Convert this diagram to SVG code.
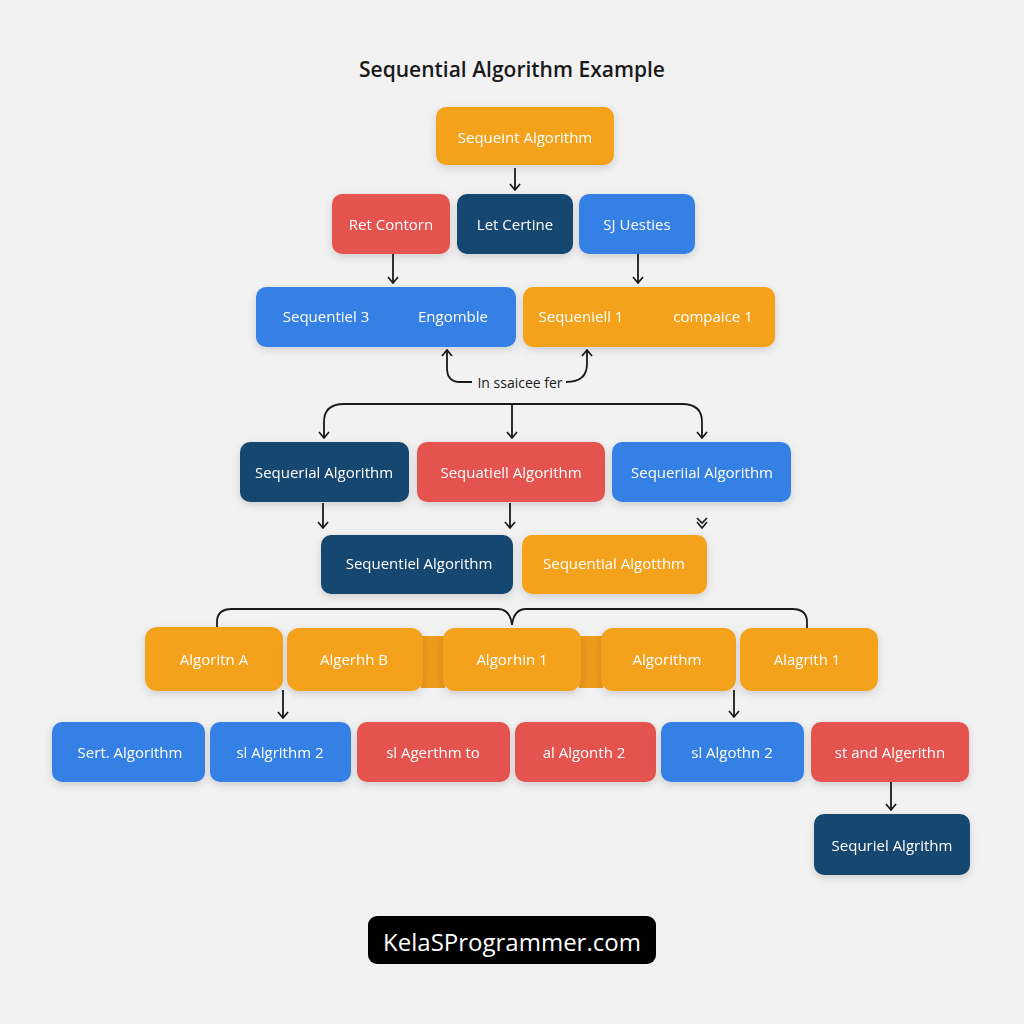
<svg xmlns="http://www.w3.org/2000/svg" width="1024" height="1024" viewBox="0 0 1024 1024">
<defs>
<filter id="sh" x="-20%" y="-30%" width="140%" height="170%">
<feDropShadow dx="0" dy="3" stdDeviation="4" flood-color="#000" flood-opacity="0.15"/>
</filter>
<marker id="ah" viewBox="0 0 12 12" refX="11" refY="6" markerWidth="12" markerHeight="12" orient="auto-start-reverse" markerUnits="userSpaceOnUse">
<path d="M5,1 L11,6 L5,11" fill="none" stroke="#1a1a1a" stroke-width="1.7"/>
</marker>
<marker id="ad" viewBox="0 0 12 12" refX="11" refY="6" markerWidth="12" markerHeight="12" orient="auto" markerUnits="userSpaceOnUse">
<path d="M1,1 L6,6 L1,11 M5,1 L11,6 L5,11" fill="none" stroke="#1a1a1a" stroke-width="1.6"/>
</marker>
</defs>
<style>
.n{filter:url(#sh)}
.o{fill:#F4A21E}
.r{fill:#E5534F}
.v{fill:#17466F}
.b{fill:#3580E4}
.t{font-family:"Open Sans","Liberation Sans",sans-serif;font-size:15px;font-weight:500;fill:#fff;text-anchor:middle;dominant-baseline:central}
.c{fill:none;stroke:#1a1a1a;stroke-width:1.8}
</style>
<rect width="1024" height="1024" fill="#F2F2F3"/>
<text x="512" y="69" font-family="Open Sans, Liberation Sans, sans-serif" font-size="21" font-weight="600" fill="#1a1a1a" text-anchor="middle" dominant-baseline="central">Sequential Algorithm Example</text>

<g id="connectors">
<line class="c" x1="515" y1="168" x2="515" y2="190" marker-end="url(#ah)"/>
<line class="c" x1="393" y1="254" x2="393" y2="283" marker-end="url(#ah)"/>
<line class="c" x1="638" y1="254" x2="638" y2="283" marker-end="url(#ah)"/>
<path class="c" d="M472,382 L460,382 Q447,382 447,368 L447,350" marker-end="url(#ah)"/>
<path class="c" d="M566,382 Q587,382 587,364 L587,350" marker-end="url(#ah)"/>
<path class="c" d="M324,438 L324,422 Q324,404 344,404 L682,404 Q702,404 702,422 L702,438" marker-start="url(#ah)" marker-end="url(#ah)"/>
<line class="c" x1="512" y1="404" x2="512" y2="438" marker-end="url(#ah)"/>
<line class="c" x1="323" y1="503" x2="323" y2="528" marker-end="url(#ah)"/>
<line class="c" x1="510" y1="503" x2="510" y2="528" marker-end="url(#ah)"/>
<line class="c" x1="702" y1="516" x2="702" y2="528" stroke-opacity="0" marker-end="url(#ad)"/>
<path class="c" d="M217,628 L217,622 Q217,609 232,609 L498,609 Q510,609 512,625 Q514,609 526,609 L792,609 Q807,609 807,622 L807,628"/>
<line class="c" x1="283" y1="690" x2="283" y2="718" marker-end="url(#ah)"/>
<line class="c" x1="734" y1="690" x2="734" y2="717" marker-end="url(#ah)"/>
<line class="c" x1="891" y1="782" x2="891" y2="810" marker-end="url(#ah)"/>
</g>

<g id="n1" class="n"><rect class="o" x="436" y="107" width="178" height="58" rx="10"/><text class="t" x="525" y="137" font-size="14">Sequeint Algorithm</text></g>

<g id="n2" class="n"><rect class="r" x="332" y="194" width="118" height="60" rx="10"/><text class="t" x="391" y="224">Ret Contorn</text></g>
<g id="n3" class="n"><rect class="v" x="457" y="194" width="116" height="60" rx="10"/><text class="t" x="515" y="224">Let Certine</text></g>
<g id="n4" class="n"><rect class="b" x="579" y="194" width="116" height="60" rx="10"/><text class="t" x="637" y="224">SJ Uesties</text></g>

<g id="n5" class="n"><rect class="b" x="256" y="287" width="260" height="60" rx="10"/><text class="t" x="326" y="316">Sequentiel 3</text><text class="t" x="453" y="316">Engomble</text></g>
<g id="n6" class="n"><rect class="o" x="523" y="287" width="252" height="60" rx="10"/><text class="t" x="581" y="316" font-size="14">Sequeniell 1</text><text class="t" x="713" y="316" font-size="14">compaice 1</text></g>

<text x="520" y="382" font-family="Open Sans, Liberation Sans, sans-serif" font-size="14" fill="#1a1a1a" text-anchor="middle" dominant-baseline="central">In ssaicee fer</text>

<g id="n7" class="n"><rect class="v" x="240" y="442" width="169" height="60" rx="10"/><text class="t" x="324" y="472">Sequerial Algorithm</text></g>
<g id="n8" class="n"><rect class="r" x="417" y="442" width="188" height="60" rx="10"/><text class="t" x="511" y="472">Sequatiell Algorithm</text></g>
<g id="n9" class="n"><rect class="b" x="612" y="442" width="179" height="60" rx="10"/><text class="t" x="702" y="472">Sequeriial Algorithm</text></g>

<g id="n10" class="n"><rect class="v" x="321" y="535" width="192" height="59" rx="10"/><text class="t" x="419" y="563">Sequentiel Algorithm</text></g>
<g id="n11" class="n"><rect class="o" x="522" y="535" width="185" height="59" rx="10"/><text class="t" x="614" y="563" font-size="14">Sequential Algotthm</text></g>

<g id="links6">
<rect x="421" y="636" width="24" height="52" fill="#EE9A1C"/>
<rect x="579" y="636" width="24" height="52" fill="#EE9A1C"/>
</g>
<g id="n12" class="n"><rect class="o" x="145" y="627" width="138" height="64" rx="12"/><text class="t" x="214" y="659" font-size="14">Algoritn A</text></g>
<g id="n13" class="n"><rect class="o" x="287" y="628" width="136" height="63" rx="12"/><text class="t" x="354" y="659" font-size="14">Algerhh B</text></g>
<g id="n14" class="n"><rect class="o" x="443" y="628" width="138" height="63" rx="12"/><text class="t" x="512" y="659" font-size="14">Algorhin 1</text></g>
<g id="n15" class="n"><rect class="o" x="601" y="628" width="135" height="63" rx="12"/><text class="t" x="667" y="659" font-size="14">Algorithm</text></g>
<g id="n16" class="n"><rect class="o" x="740" y="628" width="138" height="63" rx="12"/><text class="t" x="807" y="659" font-size="14">Alagrith 1</text></g>

<g id="n17" class="n"><rect class="b" x="52" y="722" width="153" height="60" rx="10"/><text class="t" x="130" y="752">Sert. Algorithm</text></g>
<g id="n18" class="n"><rect class="b" x="210" y="722" width="141" height="60" rx="10"/><text class="t" x="280" y="752">sl Algrithm 2</text></g>
<g id="n19" class="n"><rect class="r" x="357" y="722" width="153" height="60" rx="10"/><text class="t" x="433" y="752">sl Agerthm to</text></g>
<g id="n20" class="n"><rect class="r" x="515" y="722" width="141" height="60" rx="10"/><text class="t" x="584" y="752">al Algonth 2</text></g>
<g id="n21" class="n"><rect class="b" x="661" y="722" width="143" height="60" rx="10"/><text class="t" x="732" y="752">sl Algothn 2</text></g>
<g id="n22" class="n"><rect class="r" x="811" y="722" width="158" height="60" rx="10"/><text class="t" x="890" y="752">st and Algerithn</text></g>

<g id="n23" class="n"><rect class="v" x="814" y="814" width="156" height="61" rx="10"/><text class="t" x="892" y="845" font-size="14">Sequriel Algrithm</text></g>

<g id="footer"><rect x="368" y="916" width="288" height="48" rx="9" fill="#000"/><text x="512" y="941" font-family="Open Sans, Liberation Sans, sans-serif" font-size="24" font-weight="500" fill="#fff" text-anchor="middle" dominant-baseline="central">KelaSProgrammer.com</text></g>
</svg>
